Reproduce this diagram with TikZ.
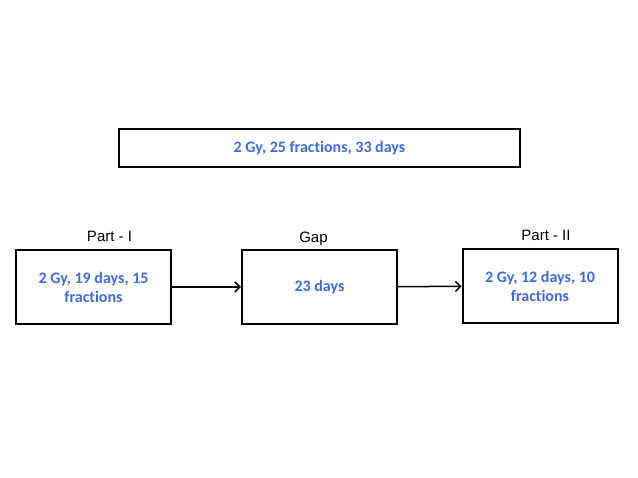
\documentclass[tikz,border=0pt]{standalone}
\usepackage{fontspec}
\setmainfont{Liberation Sans}
\newfontfamily\boxfont[Ligatures=NoCommon]{Carlito}
\usepackage{xcolor}
\usetikzlibrary{positioning, arrows.meta}
\definecolor{doseblue}{HTML}{3D6BE0}

\tikzset{
    phasebox/.style={draw, line width=2pt, minimum width=155pt, minimum height=74pt,
        align=center, text=doseblue, font=\boxfont\bfseries\fontsize{16}{19}\selectfont},
    phaselabel/.style={font=\fontsize{15}{18}\selectfont, inner sep=0pt},
}

\begin{document}
\begin{tikzpicture}[x=1pt, y=-1pt]
        \useasboundingbox (0,0) rectangle (638,478);

        \node (total) [phasebox, minimum width=401pt, minimum height=38pt] at (319.5,148) {2 Gy, 25 fractions, 33 days};
        \node (partOne) [phasebox] at (93.5,287) {2 Gy, 19 days, 15\\fractions};
        \node (gap) [phasebox] at (319.5,287) {23 days};
        \node (partTwo) [phasebox] at (540,286) {2 Gy, 12 days, 10\\fractions};

        \node (partOneLabel) [phaselabel, above=7pt of partOne, xshift=16pt] {Part - I};
        \node (gapLabel) [phaselabel, above=3pt of gap, xshift=-6pt] {Gap};
        \node (partTwoLabel) [phaselabel, above=7pt of partTwo, xshift=6pt] {Part - II};

        \foreach \i/\j in {partOne/gap, gap/partTwo} {
            \draw[-{Straight Barb[length=5pt, width=10pt]}, line width=1.5pt] (\i) -- (\j);
        }
    \end{tikzpicture}
\end{document}
